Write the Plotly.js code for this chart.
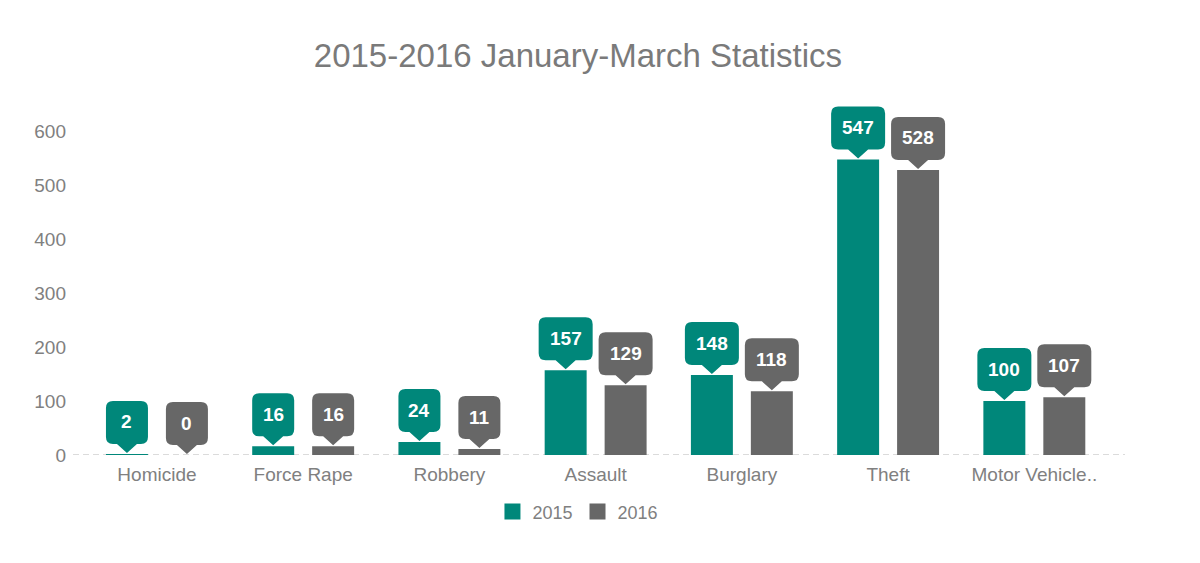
<!DOCTYPE html>
<html>
<head>
<meta charset="utf-8">
<script src="https://cdn.plot.ly/plotly-3.0.1.min.js"></script>
<style>html,body{margin:0;padding:0;background:#fff;}#chart{width:1200px;height:563px;}</style>
</head>
<body>
<div id="chart"></div>
<script>
const categories = ['Homicide', 'Force Rape', 'Robbery', 'Assault', 'Burglary', 'Theft', 'Motor Vehicle..'];
const seriesNames = ['2015', '2016'];
const values2015 = [2, 16, 24, 157, 148, 547, 100];
const values2016 = [0, 16, 11, 129, 118, 528, 107];
const yTicks = [0, 100, 200, 300, 400, 500, 600];

const colors = ['#00877a', '#676767'];
const textGray = '#808080';
const bargap = 0.18, bargroupgap = 0.30;
const idx = categories.map((_, i) => i);
const series = [values2015, values2016];

const traces = series.map((vals, s) => ({
  type: 'bar',
  name: seriesNames[s],
  x: idx,
  y: vals,
  marker: {color: colors[s], line: {width: 0}},
  showlegend: false,
  hoverinfo: 'x+y'
}));
// legend entries with larger square swatches
seriesNames.forEach((nm, s) => {
  traces.push({
    type: 'scatter', mode: 'markers', name: nm, x: [null], y: [null],
    marker: {symbol: 'square', size: 18, color: colors[s]}, showlegend: true, hoverinfo: 'skip'
  });
});

// bubble callouts (pixel-sized paths anchored at each bar top)
function bubblePath(w) {
  const h = w / 2, r = 7, b = 10, t = 53, p = 10;
  return `M0,1 L${-p},${b} L${-h + r},${b} Q${-h},${b} ${-h},${b + r} L${-h},${t - r} Q${-h},${t} ${-h + r},${t} ` +
         `L${h - r},${t} Q${h},${t} ${h},${t - r} L${h},${b + r} Q${h},${b} ${h - r},${b} L${p},${b} Z`;
}
const shapes = [{
  type: 'line', xref: 'paper', x0: 0, x1: 1, yref: 'y', y0: 0, y1: 0,
  line: {color: '#b8b8b8', width: 1.2, dash: '6px,4px'}, layer: 'below'
}];
const annotations = [];
const off = (1 - bargap) / 4;
series.forEach((vals, s) => {
  vals.forEach((v, i) => {
    const xc = i + (s === 0 ? -off : off);
    const label = String(v);
    const w = label.length >= 3 ? 54 : 42;
    shapes.push({
      type: 'path', xref: 'x', yref: 'y', xsizemode: 'pixel', ysizemode: 'pixel',
      xanchor: xc, yanchor: v, path: bubblePath(w),
      fillcolor: colors[s], line: {width: 0}, layer: 'above'
    });
    annotations.push({
      x: xc, y: v, xref: 'x', yref: 'y', text: '<b>' + label + '</b>', showarrow: false,
      yshift: 32, xanchor: 'center', yanchor: 'middle',
      font: {family: 'Liberation Sans, Arial, sans-serif', size: 19, color: '#ffffff'}
    });
  });
});

const layout = {
  width: 1200, height: 563,
  margin: {l: 73, r: 75, t: 104, b: 108},
  paper_bgcolor: '#ffffff', plot_bgcolor: '#ffffff',
  font: {family: 'Liberation Sans, Arial, sans-serif', color: textGray},
  title: {
    text: '2015-2016 January-March Statistics',
    font: {size: 33, color: '#7a7a7a'},
    x: 0.48, xref: 'paper', xanchor: 'center', y: 0.902, yref: 'container', yanchor: 'middle'
  },
  barmode: 'group', bargap: bargap, bargroupgap: bargroupgap,
  xaxis: {
    range: [-0.574, 6.62], tickvals: idx, ticktext: categories,
    showgrid: false, zeroline: false, showline: false, ticks: '',
    tickfont: {size: 19, color: textGray}, ticklabelstandoff: 6
  },
  yaxis: {
    range: [0, 650], tickvals: yTicks, showgrid: false, zeroline: false, showline: false,
    ticks: '', tickfont: {size: 19, color: textGray}, ticklabelstandoff: 6
  },
  showlegend: true,
  legend: {
    orientation: 'h', x: 0.48, xanchor: 'center', y: -0.162, yanchor: 'middle',
    font: {size: 18, color: textGray}, itemclick: false, itemwidth: 30
  },
  shapes: shapes,
  annotations: annotations
};

Plotly.newPlot('chart', traces, layout, {displayModeBar: false, staticPlot: true});
</script>
</body>
</html>
